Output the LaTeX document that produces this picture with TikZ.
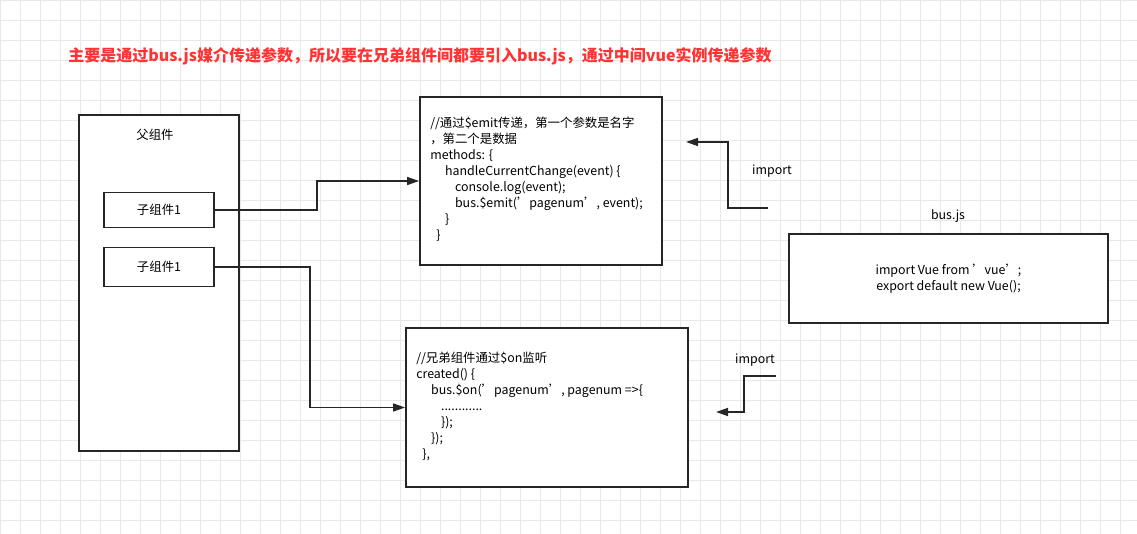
\documentclass[tikz,border=0pt]{standalone}
\usepackage{fontspec}
\setmainfont{Noto Sans CJK SC}
\usetikzlibrary{arrows.meta}
\definecolor{gridc}{RGB}{232,232,232}
\definecolor{titlec}{RGB}{255,51,51}
\newcommand\sq{\char39\relax}
\begin{document}
\begin{tikzpicture}[x=0.75pt,y=-0.75pt,
  box/.style={draw=black!85,line width=1.4pt,fill=white},
  conn/.style={draw=black!85,line width=1.1pt,-{Triangle[length=9pt,width=6pt]}},
  txt/.style={font=\fontsize{9.3pt}{12pt}\selectfont,inner sep=0pt},
  code/.style={txt,align=left,anchor=north west,font=\fontsize{9.3pt}{12pt}\selectfont}]
\useasboundingbox (0,0) rectangle (1137,534);
\fill[white] (0,0) rectangle (1137,534);
\foreach \i in {0,20,...,1137} \draw[gridc,line width=0.4pt] (\i,0) -- (\i,534);
\foreach \j in {0,20,...,534} \draw[gridc,line width=0.4pt] (0,\j) -- (1137,\j);
\node[anchor=west,inner sep=0pt,text=titlec,font=\fontsize{12pt}{14pt}\selectfont\bfseries] (title) at (68,56) {主要是通过bus.js媒介传递参数，所以要在兄弟组件间都要引入bus.js，通过中间vue实例传递参数};
\draw[box] (79,115) rectangle (239,451);
\node[txt] (parent) at (155,135) {父组件};
\node[box,minimum width=110*0.75pt,minimum height=35*0.75pt,txt,draw] (c1) at (159,210) {子组件1};
\node[box,minimum width=110*0.75pt,minimum height=39*0.75pt,txt,draw] (c2) at (159,267) {子组件1};
\node[box,minimum width=242*0.75pt,minimum height=168*0.75pt,draw] (emit) at (541,181) {};
\node[code] (emitt) at (430,117) {//通过\$emit传递，第一个参数是名字\\，第二个是数据\\methods: \{\\\hspace{1.2em}handleCurrentChange(event) \{\\\hspace{2em}console.log(event);\\\hspace{2em}bus.\$emit(\sq pagenum\sq, event);\\\hspace{1.2em}\}\\\hspace{0.5em}\}};
\node[box,minimum width=282*0.75pt,minimum height=159*0.75pt,draw] (on) at (547,407.5) {};
\node[code] (ont) at (416,352) {//兄弟组件通过\$on监听\\created() \{\\\hspace{1.2em}bus.\$on(\sq pagenum\sq, pagenum =>\{\\\hspace{2em}............\\\hspace{2em}\});\\\hspace{1.2em}\});\\\hspace{0.5em}\},};
\node[box,minimum width=319*0.75pt,minimum height=89*0.75pt,draw] (bus) at (948.5,278.5) {};
\node[txt,align=center] (bust) at (948.5,278.5) {import Vue from \sq vue\sq;\\export default new Vue();};
\node[txt] (buslabel) at (948,216) {bus.js};
\node[txt] (imp1) at (772,171) {import};
\node[txt] (imp2) at (755,360) {import};
\coordinate (i1s) at (768,208);
\coordinate (i1e) at (686,142);
\coordinate (i2s) at (776,376);
\coordinate (i2e) at (716,412);
\draw[conn] (c1.east) -- (317,210) |- (emit.west);
\draw[conn] (c2.east) -- (310,267) |- (on.west);
\draw[conn] (i1s) -- (728,208) |- (i1e);
\draw[conn] (i2s) -- (744,376) |- (i2e);
\end{tikzpicture}
\end{document}
